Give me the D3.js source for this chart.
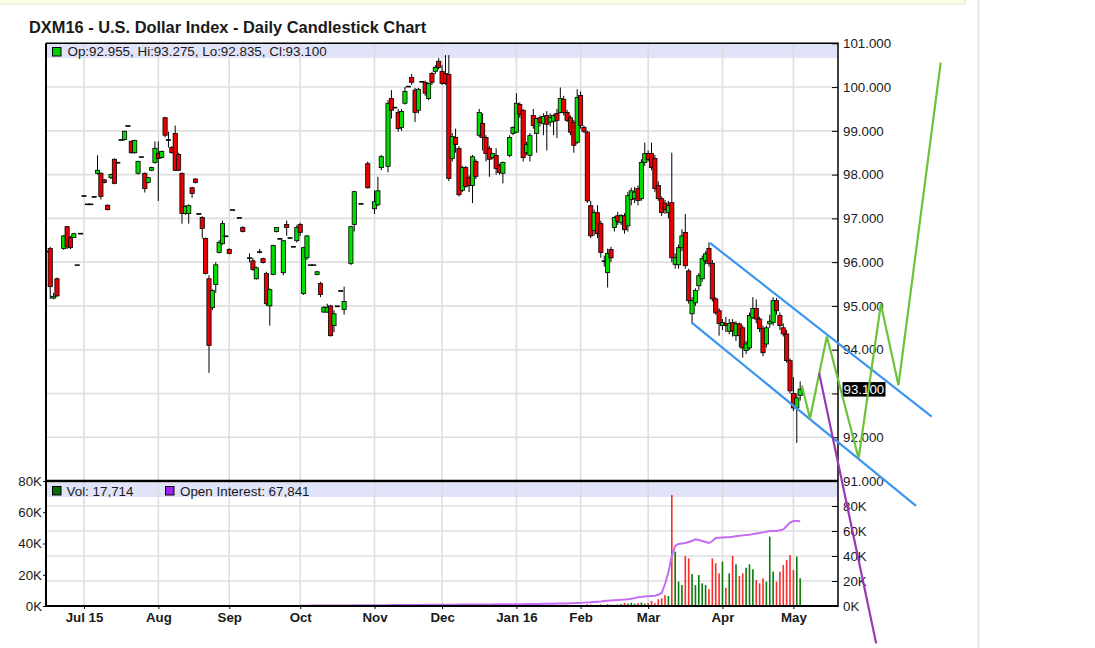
<!DOCTYPE html>
<html><head><meta charset="utf-8">
<script src="https://cdn.jsdelivr.net/npm/d3@7"></script>
<style>
body{margin:0;background:#fff;}
svg text{font-family:"Liberation Sans",Arial,Helvetica,sans-serif;}
</style></head>
<body><svg id="c" width="1095" height="648"></svg>
<script>
// ---------------- DATA ----------------
const title = "DXM16 - U.S. Dollar Index - Daily Candlestick Chart";
const firstSession = "2015-06-16";
const lastSession = "2016-05-04";
const holidays = ["2015-07-03","2015-09-07","2015-11-26","2015-12-25","2016-01-01","2016-01-18","2016-02-15","2016-03-25"];
// [open, high, low, close] per trading session, null = no trade
const ohlc = [
[96.25,96.25,96.25,96.25],[96.31,96.35,95.16,95.44],[95.18,95.30,95.15,95.22],[95.62,95.65,95.20,95.23],null,
[96.31,96.62,96.28,96.60],[96.81,96.83,96.30,96.35],[96.56,96.60,96.30,96.33],[96.56,96.67,96.55,96.65],
[95.94,95.94,95.94,95.94],[96.66,96.66,96.66,96.66],
// Jul 2015
[97.52,97.52,97.52,97.52],[97.33,97.33,97.33,97.33],[97.33,97.33,97.33,97.33],[97.50,97.50,97.50,97.50],
[98.03,98.44,98.00,98.10],[98.03,98.05,97.43,97.50],[97.88,97.90,97.80,97.82],[97.30,97.32,97.18,97.20],
[97.93,98.02,97.90,98.00],[98.35,98.37,97.78,97.80],[98.28,98.28,98.28,98.28],[98.80,98.80,98.80,98.80],
[98.80,99.00,98.78,98.99],[99.12,99.12,99.12,99.12],[98.76,98.78,98.48,98.50],[98.50,98.80,98.48,98.78],
[98.03,98.32,98.00,98.30],[98.41,98.41,98.41,98.41],[98.03,98.05,97.59,97.68],[97.82,97.95,97.80,97.93],
[98.10,98.18,98.08,98.16],[98.28,98.76,98.25,98.60],
// Aug
[98.48,98.76,97.40,98.37],[98.39,98.55,98.37,98.53],[99.30,99.32,98.85,98.90],[98.80,98.98,98.62,98.80],
[98.62,98.65,98.48,98.50],[98.94,99.12,98.08,98.10],[98.46,98.50,98.08,98.10],[98.03,98.05,96.88,97.11],
[97.11,97.30,97.08,97.27],[97.11,97.32,96.88,97.29],[97.70,97.72,97.47,97.57],[97.90,97.92,97.80,97.82],
[97.11,97.11,97.11,97.11],[97.02,97.05,96.54,96.77],[96.54,96.56,95.72,95.74],[95.62,95.70,93.47,94.10],
[94.96,95.38,94.90,95.35],[95.49,96.00,95.30,95.94],[96.22,96.50,96.20,96.45],[96.42,96.95,96.40,96.88],
[96.60,96.60,96.60,96.60],
// Sep
[96.29,96.32,96.18,96.20],[97.20,97.20,97.20,97.20],null,[97.02,97.02,97.02,97.02],[96.79,96.82,96.68,96.70],null,
[96.10,96.20,96.00,96.10],[96.03,96.10,95.80,95.83],[95.62,95.90,95.60,95.87],[96.24,96.30,96.20,96.24],
[96.08,96.10,95.97,95.99],[95.74,95.78,95.00,95.05],[95.00,95.40,94.55,95.37],[95.72,96.40,95.70,96.38],
[96.70,96.80,96.68,96.79],[96.54,96.54,96.54,96.54],[95.76,96.50,95.70,96.49],[96.86,96.95,96.60,96.79],
[96.56,96.56,96.56,96.56],[96.36,96.36,96.36,96.36],[96.49,96.85,96.45,96.79],
// Oct
[96.86,96.90,96.60,96.68],[95.28,96.35,95.25,96.33],[96.10,96.62,96.05,96.60],[95.94,95.94,95.94,95.94],
[95.94,95.94,95.94,95.94],[95.72,95.80,95.70,95.78],[95.51,95.55,95.20,95.26],[94.86,94.99,94.84,94.97],
[94.86,95.05,94.84,94.97],[95.00,95.02,94.30,94.32],[94.55,94.90,94.40,94.82],[95.00,95.00,95.00,95.00],
[95.35,95.35,95.35,95.35],[94.92,95.44,94.80,95.10],null,[95.97,96.83,95.93,96.81],[96.86,97.63,96.70,97.61],
null,[97.34,97.34,97.34,97.34],null,[98.25,98.30,97.68,97.70],null,
// Nov
[97.22,97.64,97.10,97.38],[97.31,97.95,97.28,97.63],[98.16,98.45,98.10,98.41],null,[98.19,99.70,98.05,99.63],
[99.74,99.93,99.28,99.47],[99.54,99.54,99.54,99.54],[99.42,99.50,98.98,99.05],[99.08,99.50,99.00,99.44],
[99.63,100.00,99.60,99.90],[100.02,100.02,100.02,100.02],[100.22,100.30,100.05,100.11],[99.93,99.98,99.20,99.42],
[99.47,99.98,99.40,99.95],[100.13,100.13,100.13,100.13],[100.11,100.15,99.80,99.86],[99.74,100.10,99.70,100.08],
[100.31,100.35,100.05,100.11],[100.36,100.50,100.30,100.45],[100.59,100.66,100.40,100.45],
// Dec
[100.36,100.50,100.05,100.08],[100.31,100.73,100.05,100.08],[100.29,100.73,97.85,97.91],[98.37,98.95,98.30,98.87],
[98.85,99.05,98.50,98.69],[98.60,98.65,97.50,97.54],[97.64,98.20,97.60,98.16],[98.16,98.20,97.70,97.73],
[97.93,97.98,97.60,97.75],[97.75,98.45,97.35,98.41],[98.30,98.35,97.90,97.96],[98.90,99.50,98.85,99.42],
[99.17,99.40,98.55,98.85],[98.85,98.90,98.30,98.48],[98.60,98.65,97.95,98.35],[98.39,98.50,98.35,98.48],
[98.44,98.60,98.00,98.14],[98.21,98.25,98.00,98.05],[98.03,98.30,97.80,98.28],null,
[98.44,98.90,98.40,98.85],[98.94,99.10,98.90,99.08],
// Jan 2016
[98.97,99.86,98.95,99.63],[99.60,99.65,99.30,99.38],[99.47,99.50,98.30,98.39],[98.50,98.75,98.45,98.69],
[98.44,98.95,98.30,98.89],[99.35,99.50,99.05,99.12],[98.94,99.30,98.50,99.28],[99.30,99.35,99.10,99.19],
[99.17,99.40,98.90,99.33],[99.35,99.45,98.55,99.15],[99.20,99.40,99.10,99.30],[99.22,99.38,98.90,99.35],
[99.40,99.50,98.83,99.24],[99.42,99.99,99.40,99.74],[99.72,99.80,99.35,99.42],[99.42,99.48,99.20,99.24],
[99.30,99.35,98.90,98.97],[99.19,99.25,98.50,98.67],[98.74,99.95,98.70,99.76],
// Feb
[99.81,99.90,99.05,99.12],[99.08,99.12,98.95,98.99],[98.97,99.00,97.35,97.40],[97.29,97.40,96.55,96.60],
[96.72,97.20,96.60,97.13],[97.13,97.30,96.55,96.65],[96.88,96.95,96.10,96.22],[96.03,96.15,95.90,96.03],
[95.76,96.31,95.42,96.20],[96.29,96.35,96.00,96.10],[96.79,97.05,96.70,97.02],[97.06,97.15,96.85,96.93],
[96.90,97.10,96.85,97.06],[97.06,97.12,96.65,96.74],[96.83,97.60,96.70,97.52],[97.43,97.70,97.30,97.63],
[97.45,97.72,97.35,97.60],[97.68,97.75,97.30,97.41],[97.45,98.35,97.40,98.28],[98.28,98.73,98.20,98.48],
// Mar
[98.48,98.55,98.30,98.35],[98.48,98.73,98.10,98.16],[98.37,98.45,97.60,97.68],[97.75,97.85,97.40,97.45],
[97.45,97.50,97.05,97.13],[97.35,97.42,97.10,97.20],[97.13,97.40,97.00,97.29],[97.36,98.50,96.00,96.10],
[95.95,96.20,95.85,96.10],[95.94,96.40,95.85,96.33],[96.33,96.75,96.25,96.60],[96.68,97.10,95.85,95.92],
[95.80,95.85,95.05,95.12],[94.82,95.20,94.60,95.12],[95.07,95.40,95.00,95.35],[95.46,95.75,95.35,95.69],
[95.62,96.15,95.55,96.08],[96.03,96.25,95.95,96.19],[96.31,96.45,95.90,95.97],[95.97,96.05,95.10,95.16],
[95.16,95.20,94.80,94.84],[94.89,94.95,94.32,94.60],
// Apr
[94.55,94.70,94.45,94.62],[94.60,94.75,94.40,94.55],[94.42,94.70,94.35,94.60],[94.62,94.70,94.30,94.43],
[94.32,94.65,94.20,94.59],[94.59,94.62,94.05,94.32],[94.50,94.55,93.82,94.04],[93.98,94.20,93.90,94.13],
[94.04,94.85,94.00,94.78],[94.73,95.20,94.70,94.94],[94.94,95.15,94.60,94.70],[94.70,94.75,94.40,94.48],
[94.48,94.55,93.85,93.93],[94.13,94.55,94.05,94.50],[94.59,94.80,94.50,94.65],[94.62,95.20,94.55,95.12],
[95.12,95.18,94.80,94.89],[94.78,94.85,94.45,94.55],[94.50,94.60,94.30,94.36],[94.36,94.45,93.70,93.75],
[93.75,93.80,93.00,93.06],
// May
[93.00,93.37,92.60,92.67],[92.67,93.00,91.87,92.90],[92.955,93.275,92.835,93.100]
];
// Volume (thousands of contracts), one value per session starting volumeStart
const volumeStart = "2016-01-21";
const volume = [
0.6,0.4,0,0.8,0,0.5,0,0.7,0.5,1.2,0.9,0.6,0.8,1.0,0.5,1.1,0.9,0.7,1.0,1.3,
2.0,1.5,2.0,1.5,1.8,2.2,1.5,2.0,3.2,1.8,4.3,4.9,7.0,6.4,
71,34.8,15.6,13.4,32,30.5,20.5,13.4,19.8,14.5,13.4,10.7,30.5,27.3,20.9,28.4,11.7,20.9,32,26.7,
19.2,20.9,24.5,26.7,23.5,16.6,14.5,17.7,15.6,44.4,22,15.6,22,26.2,29.4,32.6,23,31.6,17.714
];
// Open interest (thousands), one value per session starting oiStart
const oiStart = "2015-10-01";
const openInterest = [
0.3,0.3,0.3,0.4,0.4,0.4,0.4,0.4,0.4,0.5,0.5,0.5,0.5,0.5,0.5,0.5,0.6,0.6,0.6,0.6,0.6,0.6,
0.6,0.7,0.7,0.7,0.7,0.8,0.8,0.8,0.8,0.8,0.9,0.9,0.9,0.9,0.9,1.0,1.0,1.0,1.0,1.0,
1.0,1.1,1.1,1.1,1.1,1.2,1.2,1.2,1.2,1.2,1.3,1.3,1.3,1.3,1.3,1.3,1.4,1.4,1.4,1.4,1.4,1.4,
1.5,1.5,1.5,1.6,1.6,1.6,1.7,1.7,1.8,1.8,1.9,1.9,2.0,2.0,2.1,2.1,2.2,2.3,2.4,
2.5,2.7,2.9,3.0,3.2,3.4,3.6,4.0,4.2,4.4,4.6,4.8,5.0,5.1,5.4,5.8,6.3,7.0,7.3,7.6,
7.8,8.0,8.2,9.0,10.4,17.6,27.0,
40.0,48.0,49.6,50.0,50.4,51.2,52.0,53.3,52.8,52.0,51.2,50.4,52.0,54.4,54.6,54.8,55.0,55.0,55.4,55.8,
56.2,56.5,56.8,57.0,57.5,58.0,58.4,58.9,59.4,60.0,60.0,60.0,60.6,61.3,64.0,66.7,68.0,68.0,67.841
];
const monthTickDates = ["2015-07-01","2015-08-03","2015-09-01","2015-10-01","2015-11-02","2015-12-01","2016-01-04","2016-02-01","2016-03-01","2016-04-01","2016-05-02"];
const monthTickLabels = ["Jul 15","Aug","Sep","Oct","Nov","Dec","Jan 16","Feb","Mar","Apr","May"];
const priceTicks = [91,92,93,94,95,96,97,98,99,100,101];
const volLeftTicks = [0,20,40,60,80];
const volRightTicks = [0,20,40,60,80];
// hand-drawn annotations: [session position, price]
const channelUpper = [[196.3,96.44],[261.95,92.47]];
const channelLower = [[190.9,94.62],[257.3,90.43]];
const projectionGreen = [[223.5,93.18],[225.9,92.43],[230.9,94.30],[240.3,91.52],[246.9,95.04],[252.1,93.19],[264.6,100.56]];
const projectionPurple = [[228.6,93.47],[245.5,87.29]];

// ---------------- SESSIONS ----------------
const pad = n => String(n).padStart(2,"0");
const iso = d => d.getUTCFullYear()+"-"+pad(d.getUTCMonth()+1)+"-"+pad(d.getUTCDate());
const parseD = s => { const [y,m,d]=s.split("-").map(Number); return new Date(Date.UTC(y,m-1,d)); };
const hol = new Set(holidays);
const sessions = [];
for (let d = parseD(firstSession); d <= parseD(lastSession); d = new Date(d.getTime()+86400000)) {
  const wd = d.getUTCDay();
  if (wd===0 || wd===6 || hol.has(iso(d))) continue;
  sessions.push(iso(d));
}
const sIndex = new Map(sessions.map((s,i)=>[s,i]));

// ---------------- LAYOUT ----------------
const PL=46, PR=838, PT=43.3, PB=481, VB=606;
const svg = d3.select("#c");
const x = d3.scaleLinear().domain([-0.25, 234.2]).range([PL, PR]);
const yP = d3.scaleLinear().domain([91,101]).range([PB, PT]);
const yVL = d3.scaleLinear().domain([0,80]).range([VB, PB]);
const yVR = d3.scaleLinear().domain([0,100]).range([VB, PB]);
const last = ohlc[ohlc.length-1];

// page decorations
svg.append("rect").attr("x",0).attr("y",0).attr("width",1095).attr("height",648).attr("fill","#fff");
svg.append("rect").attr("x",-1).attr("y",-1).attr("width",966).attr("height",5).attr("fill","#fdfde6").attr("stroke","#e4e4c8");
svg.append("line").attr("x1",978.5).attr("x2",978.5).attr("y1",0).attr("y2",648).attr("stroke","#e2e2e2").attr("stroke-width",1.5);

svg.append("text").attr("x",29).attr("y",33).attr("font-size",16.4).attr("font-weight","bold").attr("fill","#1a1a1a").text(title);

// legend bands
svg.append("rect").attr("x",PL).attr("y",44).attr("width",PR-PL).attr("height",14).attr("fill","#e1e4f8");
svg.append("rect").attr("x",PL).attr("y",483).attr("width",PR-PL).attr("height",14).attr("fill","#e1e4f8");

// gridlines
const grid = svg.append("g").attr("stroke","#dcdcdc").attr("stroke-width",1.6).attr("opacity",0.9);
const monthIdx = monthTickDates.map(d=>sIndex.get(d));
grid.selectAll("line.v").data(monthIdx).join("line").attr("x1",d=>x(d)).attr("x2",d=>x(d)).attr("y1",PT).attr("y2",VB);
grid.selectAll("line.h").data(priceTicks.filter(p=>p>91&&p<101)).join("line").attr("class","h")
  .attr("x1",PL).attr("x2",PR).attr("y1",d=>yP(d)).attr("y2",d=>yP(d));
grid.selectAll("line.hv").data(volRightTicks.filter(v=>v>0)).join("line").attr("class","hv")
  .attr("x1",PL).attr("x2",PR).attr("y1",d=>yVR(d)).attr("y2",d=>yVR(d));

// clips
const defs = svg.append("defs");
defs.append("clipPath").attr("id","cp").append("rect").attr("x",PL).attr("y",PT).attr("width",PR-PL).attr("height",PB-PT);
defs.append("clipPath").attr("id","cv").append("rect").attr("x",PL).attr("y",PB).attr("width",PR-PL).attr("height",VB-PB);

// candles
const candles = ohlc.map((c,i)=>c?{i,o:c[0],h:c[1],l:c[2],c:c[3]}:null).filter(Boolean);
const cg = svg.append("g").attr("clip-path","url(#cp)");
cg.selectAll("line.w").data(candles).join("line")
  .attr("x1",d=>x(d.i)).attr("x2",d=>x(d.i)).attr("y1",d=>yP(d.h)).attr("y2",d=>yP(d.l))
  .attr("stroke","#000").attr("stroke-width",1);
cg.selectAll("rect.b").data(candles).join("rect")
  .attr("x",d=>x(d.i)-2.1).attr("width",4.2)
  .attr("y",d=>yP(Math.max(d.o,d.c)))
  .attr("height",d=>Math.max(0.8, Math.abs(yP(d.o)-yP(d.c))))
  .attr("fill",d=>d.c>=d.o?"#00dd00":"#e80000")
  .attr("stroke","#000").attr("stroke-width",0.8);

// volume + OI
const v0 = sIndex.get(volumeStart);
const vols = volume.map((v,k)=>({i:v0+k, v, up: ohlc[v0+k] ? ohlc[v0+k][3]>=ohlc[v0+k][0] : true}));
const vg = svg.append("g").attr("clip-path","url(#cv)");
vg.selectAll("rect").data(vols.filter(d=>d.v>0)).join("rect")
  .attr("x",d=>x(d.i)-0.8).attr("width",1.6)
  .attr("y",d=>yVL(d.v)).attr("height",d=>VB-yVL(d.v))
  .attr("fill",d=>d.up?"#0a7a0a":"#ff2a2a");
const o0 = sIndex.get(oiStart);
const oiPts = openInterest.map((v,k)=>[o0+k,v]);
vg.append("path").datum(oiPts)
  .attr("d", d3.line().x(d=>x(d[0])).y(d=>yVR(d[1])))
  .attr("fill","none").attr("stroke","#c56cf5").attr("stroke-width",2);

// borders
svg.append("line").attr("x1",PL).attr("x2",PR).attr("y1",PT).attr("y2",PT).attr("stroke","#000").attr("stroke-width",1.5);
svg.append("line").attr("x1",PL).attr("x2",PL).attr("y1",PT).attr("y2",VB).attr("stroke","#000").attr("stroke-width",2);
svg.append("line").attr("x1",PR).attr("x2",PR).attr("y1",PT-0.7).attr("y2",VB+1).attr("stroke","#000").attr("stroke-width",1.5);
svg.append("line").attr("x1",PL).attr("x2",PR).attr("y1",PB).attr("y2",PB).attr("stroke","#000").attr("stroke-width",2.5);
svg.append("line").attr("x1",PL).attr("x2",PR).attr("y1",VB).attr("y2",VB).attr("stroke","#000").attr("stroke-width",2);

// axes
function styleAxis(g, size, bold){
  g.select(".domain").remove();
  g.selectAll("text").attr("font-size",size).attr("fill","#1a1a1a").attr("font-family","'Liberation Sans',Arial,sans-serif");
  if(bold) g.selectAll("text").attr("font-weight","bold");
  g.selectAll("line").attr("stroke","#000");
}
// price tick labels hidden where the last-price marker covers them
const hiddenUnderMarker = p => Math.abs(yP(p) - yP(last[3])) < 10;
const axP = svg.append("g").attr("transform",`translate(${PR},0)`)
  .call(d3.axisRight(yP).tickValues(priceTicks).tickSize(-6).tickPadding(5)
    .tickFormat(p => hiddenUnderMarker(p) ? "" : d3.format(".3f")(p)));
styleAxis(axP,13.3);
const axVR = svg.append("g").attr("transform",`translate(${PR},0)`)
  .call(d3.axisRight(yVR).tickValues(volRightTicks).tickSize(-6).tickPadding(5).tickFormat(d=>d+"K"));
styleAxis(axVR,13.3);
const axVL = svg.append("g").attr("transform",`translate(${PL},0)`)
  .call(d3.axisLeft(yVL).tickValues(volLeftTicks).tickSize(3).tickPadding(1).tickFormat(d=>d+"K"));
styleAxis(axVL,13.3);
const axX = svg.append("g").attr("transform",`translate(0,${VB})`)
  .call(d3.axisBottom(x).tickValues(monthIdx).tickSize(3).tickPadding(4).tickFormat((d,i)=>monthTickLabels[i]));
styleAxis(axX,13.3,true);

// legends
const f3 = d3.format(".3f");
svg.append("rect").attr("x",52.5).attr("y",47.5).attr("width",8.5).attr("height",8.5).attr("fill","#00d000").attr("stroke","#000").attr("stroke-width",1);
svg.append("text").attr("x",67.5).attr("y",56).attr("font-size",13.4).attr("fill","#1a1a1a")
  .text(`Op:${f3(last[0])}, Hi:${f3(last[1])}, Lo:${f3(last[2])}, Cl:${f3(last[3])}`);
const fint = d3.format(",");
svg.append("rect").attr("x",52.5).attr("y",486.5).attr("width",8.5).attr("height",8.5).attr("fill","#0a6a0a").attr("stroke","#000").attr("stroke-width",1);
svg.append("text").attr("x",66.5).attr("y",495.5).attr("font-size",13.4).attr("fill","#1a1a1a")
  .text(`Vol: ${fint(Math.round(volume[volume.length-1]*1000))}`);
svg.append("rect").attr("x",165.5).attr("y",486.5).attr("width",8.5).attr("height",8.5).attr("fill","#a020f0").attr("stroke","#000").attr("stroke-width",1);
svg.append("text").attr("x",180).attr("y",495.5).attr("font-size",13.4).attr("fill","#1a1a1a")
  .text(`Open Interest: ${fint(Math.round(openInterest[openInterest.length-1]*1000))}`);

// last price marker
const yc = yP(last[3]);
svg.append("rect").attr("x",842.5).attr("y",yc-7).attr("width",43).attr("height",14.5).attr("fill","#000");
svg.append("text").attr("x",843.5).attr("y",yc+5).attr("font-size",13.3).attr("fill","#fff").text(f3(last[3]));

// annotations
const ln = d3.line().x(d=>x(d[0])).y(d=>yP(d[1]));
[[channelUpper,"#3b95f0"],[channelLower,"#3b95f0"],[projectionGreen,"#6cc33a"],[projectionPurple,"#9a35b8"]]
  .forEach(([pts,col])=>{
    svg.append("path").attr("d",ln(pts)).attr("fill","none").attr("stroke",col).attr("stroke-width",2.2).attr("stroke-linejoin","miter");
  });
</script>
</body></html>
